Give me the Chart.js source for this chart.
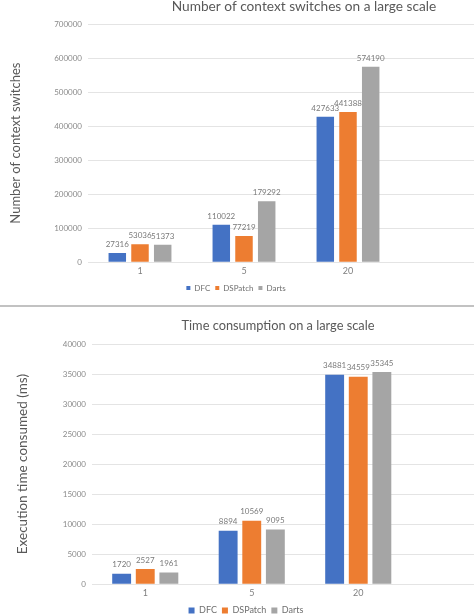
<!DOCTYPE html>
<html>
<head>
<meta charset="utf-8">
<script src="https://cdn.jsdelivr.net/npm/chart.js@4.4.1/dist/chart.umd.min.js"></script>
<style>
    body { margin: 0; background: #fff; }
    .box { position: relative; width: 474px; overflow: hidden; }
    #top { height: 305px; }
    #sep { width: 474px; height: 2px; background: #c2c2c2; }
    #bottom { height: 307px; }
</style>
</head>
<body>
<div class="box" id="top"><canvas id="switches" width="510" height="302"></canvas></div>
<div id="sep"></div>
<div class="box" id="bottom"><canvas id="timing" width="524" height="318"></canvas></div>

<script>
// data
const scaleLabels = ["1", "5", "20", ""];
const seriesNames = ["DFC", "DSPatch", "Darts"];

const switchesDFC = [27316, 110022, 427633];
const switchesDSPatch = [53036, 77219, 441388];
const switchesDarts = [51373, 179292, 574190];

const timeDFC = [1720, 8894, 34881];
const timeDSPatch = [2527, 10569, 34559];
const timeDarts = [1961, 9095, 35345];

const FONT = "Lato";

// title and legend sit off-centre in the original, shift them sideways
const nudge = {
    id: "nudge",
    afterLayout(chart, args, opts) {
        [[chart.titleBlock, opts.title], [chart.legend, opts.legend]].forEach(([box, dx]) => {
            if (box && dx) {
                box.left += dx;
                box.right += dx;
            }
        });
    }
};

// value labels above each bar
const barValues = {
    id: "barValues",
    afterDatasetsDraw(chart, args, opts) {
        const ctx = chart.ctx;
        ctx.save();
        ctx.font = opts.size + "px " + FONT;
        ctx.fillStyle = "#7a7a7a";
        ctx.textAlign = "center";
        ctx.textBaseline = "middle";
        chart.data.datasets.forEach((ds, i) => {
            chart.getDatasetMeta(i).data.forEach((bar, j) => {
                ctx.fillText(ds.data[j], bar.x, bar.y - opts.gap);
            });
        });
        ctx.restore();
    }
};

function makeChart(id, o) {
    const colors = ["#4472C4", "#ED7D31", "#A5A5A5"];
    return new Chart(document.getElementById(id), {
        type: "bar",
        data: {
            labels: scaleLabels,
            datasets: o.series.map((vals, i) => ({
                label: seriesNames[i],
                data: vals,
                backgroundColor: colors[i],
                categoryPercentage: o.catPct,
                barPercentage: o.barPct
            }))
        },
        options: {
            responsive: false,
            animation: false,
            layout: { padding: { top: 0, right: 6, bottom: 0, left: 0 } },
            plugins: {
                title: {
                    display: true,
                    text: o.title,
                    color: "#595959",
                    font: { family: FONT, size: o.titleSize, weight: "normal", lineHeight: 1 },
                    padding: o.titlePad
                },
                legend: {
                    position: "bottom",
                    labels: {
                        color: "#6f6f6f",
                        font: { family: FONT, size: o.legendSize },
                        boxWidth: o.legendBox,
                        boxHeight: o.legendBox,
                        padding: o.legendPad
                    }
                },
                tooltip: { enabled: false },
                nudge: { title: o.titleDx, legend: o.legendDx },
                barValues: { size: 8, gap: o.labelGap }
            },
            scales: {
                x: {
                    grid: { display: false, drawTicks: false },
                    border: { display: false },
                    ticks: { color: "#7f7f7f", padding: 3, font: { family: FONT, size: 9 } }
                },
                y: {
                    min: 0,
                    max: o.max,
                    ticks: {
                        stepSize: o.step,
                        color: "#8a8a8a",
                        padding: 6,
                        font: { family: FONT, size: 8 },
                        callback: (v) => String(v)
                    },
                    grid: { color: "#e4e4e4", drawTicks: false },
                    border: { display: false },
                    title: {
                        display: true,
                        text: o.yTitle,
                        color: "#595959",
                        font: { family: FONT, size: o.yTitleSize },
                        padding: { top: o.yTitleGap, bottom: 0 }
                    },
                    afterFit: (scale) => { scale.width = o.axisWidth; }
                }
            }
        },
        plugins: [nudge, barValues]
    });
}

makeChart("switches", {
    title: "Number of context switches on a large scale",
    yTitle: "Number of context switches",
    series: [switchesDFC, switchesDSPatch, switchesDarts],
    max: 700000, step: 100000,
    axisWidth: 88, yTitleGap: 8, yTitleSize: 13,
    titleSize: 13.7, titlePad: { top: 0, bottom: 10.3 },
    legendSize: 8, legendBox: 4, legendPad: 5,
    catPct: 0.655, barPct: 0.77,
    titleDx: 52, legendDx: -16, labelGap: 8.5
});

makeChart("timing", {
    title: "Time consumption on a large scale",
    yTitle: "Execution time consumed (ms)",
    series: [timeDFC, timeDSPatch, timeDarts],
    max: 40000, step: 5000,
    axisWidth: 92, yTitleGap: 15, yTitleSize: 13.5,
    titleSize: 12.8, titlePad: { top: 12, bottom: 12.2 },
    legendSize: 9, legendBox: 6, legendPad: 5,
    catPct: 0.665, barPct: 0.8,
    titleDx: 19, legendDx: -13, labelGap: 9
});
</script>
</body>
</html>
